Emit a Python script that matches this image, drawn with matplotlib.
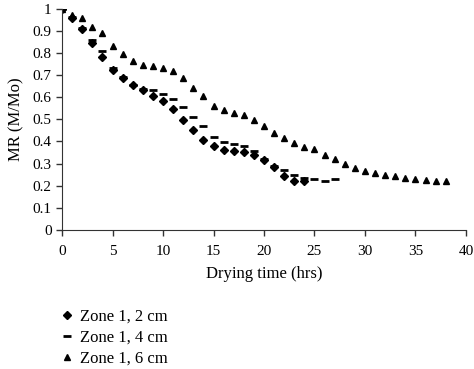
import matplotlib

matplotlib.use("Agg")

import matplotlib.pyplot as plt

plt.rcParams["font.family"] = ["Liberation Serif", "DejaVu Serif"]

hours_2cm = list(range(0, 25))
mr_2cm = [1.0, 0.96, 0.91, 0.846, 0.782, 0.725, 0.689, 0.654, 0.631, 0.607,
          0.583, 0.548, 0.498, 0.454, 0.405, 0.381, 0.361, 0.357, 0.351, 0.340,
          0.317, 0.284, 0.242, 0.221, 0.221]

hours_4cm = list(range(0, 28))
mr_4cm = [1.0, 0.965, 0.915, 0.861, 0.808, 0.733, 0.692, 0.657, 0.637, 0.633,
          0.615, 0.592, 0.557, 0.512, 0.468, 0.422, 0.399, 0.387, 0.381, 0.359,
          0.320, 0.290, 0.269, 0.249, 0.236, 0.231, 0.222, 0.228]

hours_6cm = list(range(0, 39))
mr_6cm = [1.0, 0.974, 0.959, 0.918, 0.891, 0.831, 0.797, 0.766, 0.746, 0.740,
          0.733, 0.717, 0.687, 0.643, 0.604, 0.562, 0.542, 0.527, 0.520, 0.498,
          0.471, 0.438, 0.415, 0.393, 0.375, 0.366, 0.340, 0.320, 0.299, 0.280,
          0.266, 0.257, 0.249, 0.246, 0.237, 0.230, 0.227, 0.223, 0.221]

x_ticks = list(range(0, 41, 5))
y_ticks = [i / 10 for i in range(0, 11)]
y_tick_labels = ["0", "0.1", "0.2", "0.3", "0.4", "0.5", "0.6", "0.7", "0.8", "0.9", "1"]

fig = plt.figure(figsize=(4.74, 3.69), dpi=100)
ax = fig.add_axes([0.131, 0.377, 0.852, 0.599])

ax.plot(hours_2cm, mr_2cm, linestyle="none", marker="D", markersize=3.8,
        color="black", label="Zone 1, 2 cm")
ax.plot(hours_4cm, mr_4cm, linestyle="none", marker="_", markersize=6,
        markeredgewidth=2, color="black", label="Zone 1, 4 cm")
ax.plot(hours_6cm, mr_6cm, linestyle="none", marker="^", markersize=4.5,
        color="black", label="Zone 1, 6 cm")

ax.set_xlim(0, 40)
ax.set_ylim(0, 1)
ax.set_xticks(x_ticks)
ax.set_yticks(y_ticks)
ax.set_yticklabels(y_tick_labels)
ax.tick_params(labelsize=11, length=4, width=1, color="#333333")
ax.tick_params(axis="x", pad=7)
ax.spines["top"].set_visible(False)
ax.spines["right"].set_visible(False)
for side in ("left", "bottom"):
    ax.spines[side].set_color("#333333")

ax.set_xlabel("Drying time (hrs)", fontsize=12, labelpad=6)
ax.set_ylabel("MR (M/Mo)", fontsize=12, labelpad=6)

ax.legend(loc="upper left", bbox_to_anchor=(-0.022, -0.32), frameon=False,
          fontsize=12, handlelength=0.6, handletextpad=0.5, labelspacing=0.3,
          borderpad=0)

fig.savefig("out.png", dpi=100)
